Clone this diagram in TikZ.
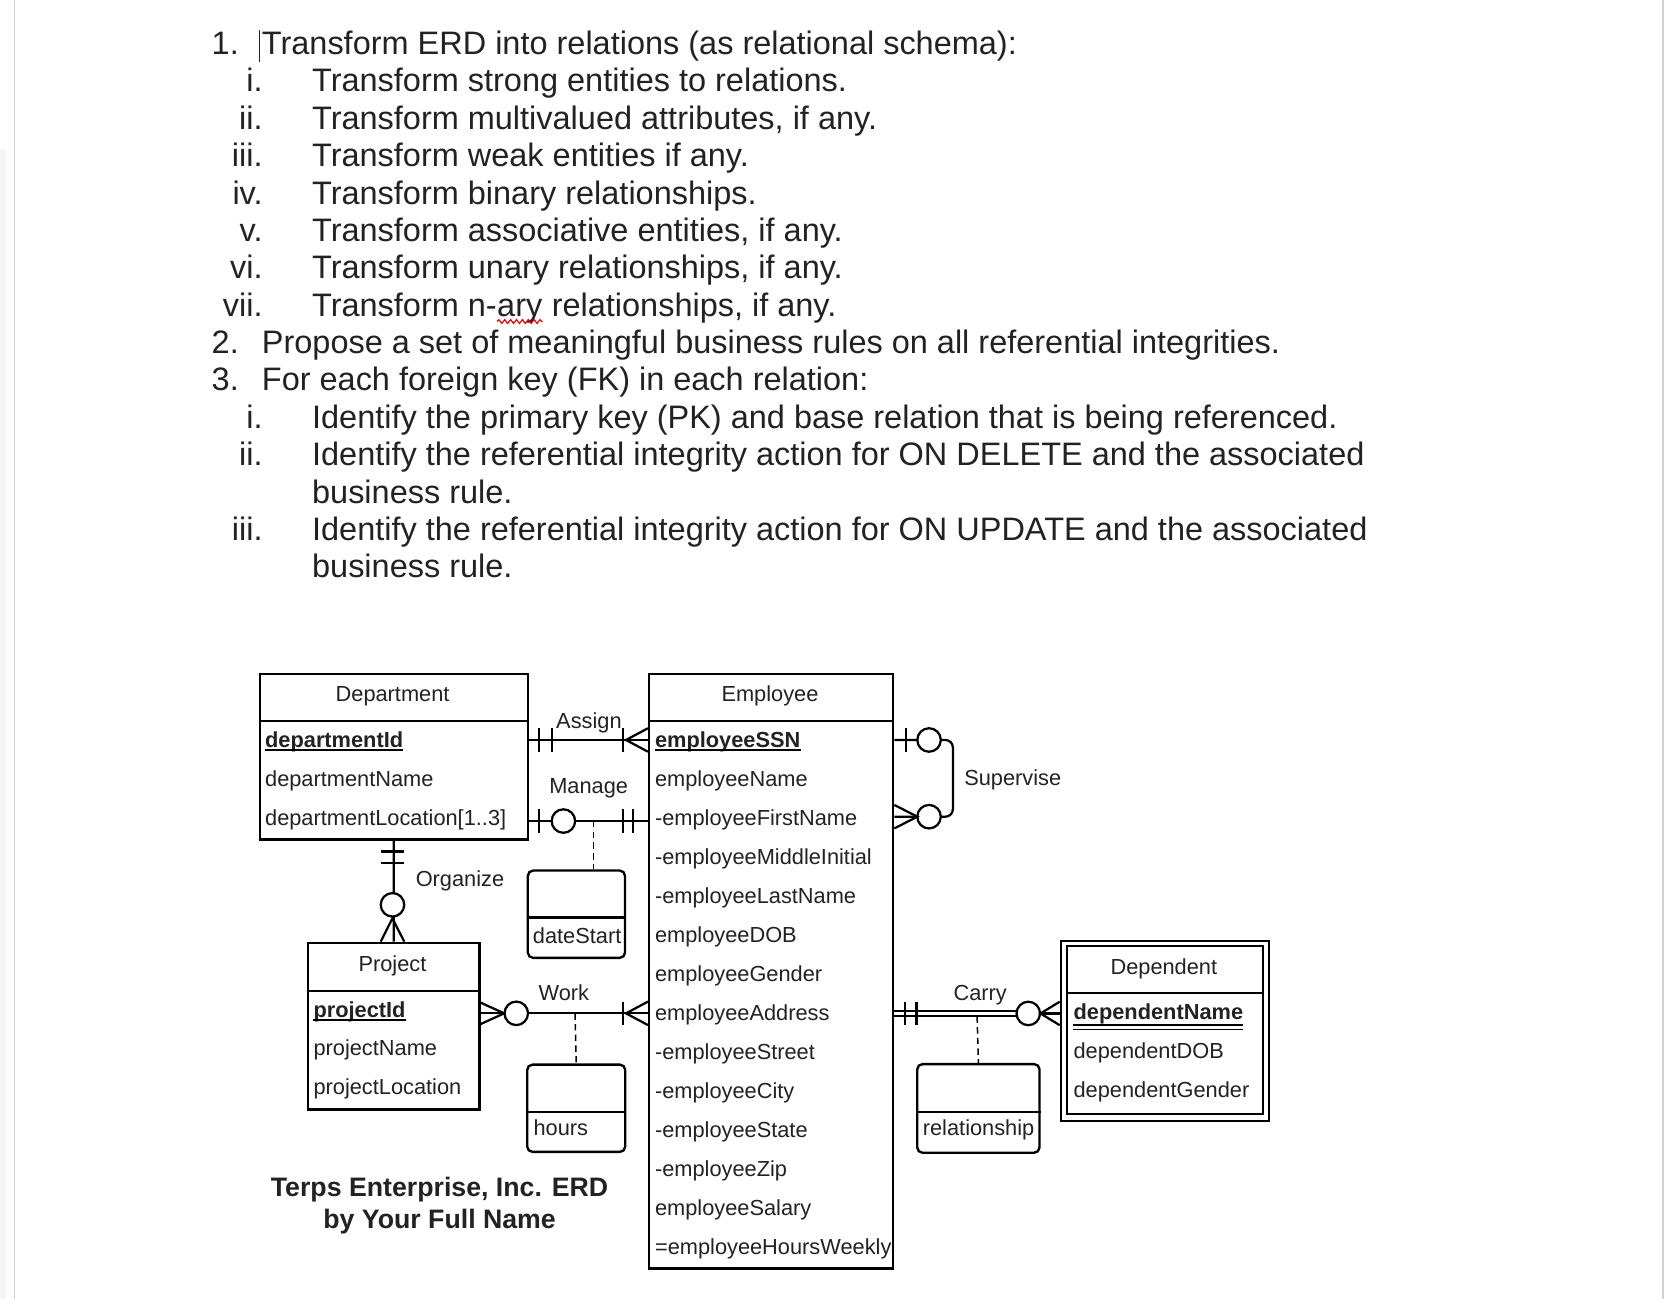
\documentclass[tikz,border=0pt]{standalone}
\usepackage{fontspec}
\setmainfont{Liberation Sans}
\usetikzlibrary{calc,decorations.pathmorphing}
\definecolor{txt}{HTML}{222222}
\newcommand\bodyfs{\fontsize{30.4}{35}\selectfont}
\newcommand\erdfs{\fontsize{20.4}{24}\selectfont}
\newcommand\titlefs{\fontsize{25}{30}\selectfont\bfseries}
\begin{document}
\begin{tikzpicture}[x=1pt,y=-1pt,
  ln/.style={anchor=base west, inner sep=0pt, font=\bodyfs, text=txt},
  num/.style={anchor=base east, inner sep=0pt, font=\bodyfs, text=txt},
  ent/.style={draw, line width=2.2pt, inner sep=0pt, anchor=north west},
  assoc/.style={draw, line width=2.2pt, inner sep=0pt, anchor=north west, rounded corners=5pt},
  divl/.style={line width=2.2pt},
  attr/.style={anchor=base west, inner sep=0pt, font=\erdfs, text=txt},
  hdr/.style={anchor=base, inner sep=0pt, font=\erdfs, text=txt},
  rel/.style={line width=2.1pt},
  tk/.style={line width=2.1pt},
  opt/.style={line width=2.1pt, fill=white},
  dsh/.style={line width=1.4pt, dash pattern=on 6pt off 4pt},
  ul/.style={line width=1.6pt}
]
\useasboundingbox (0,0) rectangle (1568,1216);
\fill[white] (0,0) rectangle (1568,1216);
\fill[gray!8] (0,140) rectangle (6,1216);
\draw[gray!35, line width=1.5pt] (13.5,0) -- (13.5,1216);
\draw[gray!35, line width=1.5pt] (1557,0) -- (1557,1216);

% ---------------- text list ----------------
\draw[txt, line width=1pt] (243,28) -- (243,58);
\node[ln] (n1) at (198,51) {1.};
\node[ln] (l1) at (245,51) {Transform ERD into relations (as relational schema):};
\node[num] at (246,86) {i.};
\node[ln] at (292,86) {Transform strong entities to relations.};
\node[num] at (246,121) {ii.};
\node[ln] at (292,121) {Transform multivalued attributes, if any.};
\node[num] at (246,156) {iii.};
\node[ln] at (292,156) {Transform weak entities if any.};
\node[num] at (246,191) {iv.};
\node[ln] at (292,191) {Transform binary relationships.};
\node[num] at (246,226) {v.};
\node[ln] at (292,226) {Transform associative entities, if any.};
\node[num] at (246,261) {vi.};
\node[ln] at (292,261) {Transform unary relationships, if any.};
\node[num] at (246,296) {vii.};
\node[ln] (t7a) at (292,296) {Transform n-};
\node[ln] (t7b) at (t7a.base east) {ary};
\node[ln] (t7c) at (t7b.base east) {\ relationships, if any.};
\draw[red!90!black, line width=1.1pt, decorate, decoration={snake, amplitude=1.8pt, segment length=5.5pt}]
  ($(t7b.base west)+(0,5)$) -- ($(t7b.base east)+(0,5)$);
\node[ln] at (198,331) {2.};
\node[ln] at (245,331) {Propose a set of meaningful business rules on all referential integrities.};
\node[ln] at (198,366) {3.};
\node[ln] at (245,366) {For each foreign key (FK) in each relation:};
\node[num] at (246,401) {i.};
\node[ln] at (292,401) {Identify the primary key (PK) and base relation that is being referenced.};
\node[num] at (246,436) {ii.};
\node[ln] at (292,436) {Identify the referential integrity action for ON DELETE and the associated};
\node[ln] at (292,471) {business rule.};
\node[num] at (246,506) {iii.};
\node[ln] at (292,506) {Identify the referential integrity action for ON UPDATE and the associated};
\node[ln] at (292,541) {business rule.};

% ---------------- entities ----------------
\node[ent, minimum width=251pt, minimum height=155.1pt] (dept) at (242,629.7) {};
\draw[divl] (dept.west |- 0,675) -- (dept.east |- 0,675);
\node[hdr] at (367.5,656.9) {Department};
\node[attr, font=\erdfs\bfseries] (deptid) at (248,699.6) {departmentId};
\draw[ul] ($(deptid.base west)+(0,2.5)$) -- ($(deptid.base east)+(0,2.5)$);
\node[attr] at (248,736.1) {departmentName};
\node[attr] at (248,772.7) {departmentLocation[1..3]};

\node[ent, minimum width=228.4pt, minimum height=556.7pt] (emp) at (606.6,629.7) {};
\draw[divl] (emp.west |- 0,675) -- (emp.east |- 0,675);
\node[hdr] at (720.8,656.9) {Employee};
\node[attr, font=\erdfs\bfseries] (ssn) at (613,699.6) {employeeSSN};
\draw[ul] ($(ssn.base west)+(0,2.5)$) -- ($(ssn.base east)+(0,2.5)$);
\foreach \t [count=\i from 1] in {{employeeName},{-employeeFirstName},{-employeeMiddleInitial},
  {-employeeLastName},{employeeDOB},{employeeGender},{employeeAddress},{-employeeStreet},
  {-employeeCity},{-employeeState},{-employeeZip},{employeeSalary},{=employeeHoursWeekly}}
  \node[attr] at (613,699.6+36.55*\i) {\t};

\node[ent, minimum width=160.8pt, minimum height=156.1pt] (proj) at (287,881.5) {};
\draw[divl] (proj.west |- 0,927.7) -- (proj.east |- 0,927.7);
\node[hdr] at (367.4,909.6) {Project};
\node[attr, font=\erdfs\bfseries] (pid) at (293.3,952.4) {projectId};
\draw[ul] ($(pid.base west)+(0,2.5)$) -- ($(pid.base east)+(0,2.5)$);
\node[attr] at (293.3,988.5) {projectName};
\node[attr] at (293.3,1024.6) {projectLocation};

\node[ent, minimum width=195pt, minimum height=168.5pt] (dep) at (992,880) {};
\node[ent, minimum width=183pt, minimum height=157.3pt] (depin) at (998,884.7) {};
\draw[divl] (depin.west |- 0,929.7) -- (depin.east |- 0,929.7);
\node[hdr] at (1089.5,912.7) {Dependent};
\node[attr, font=\erdfs\bfseries] (dname) at (1004.8,954.3) {dependentName};
\draw[ul, line width=1.4pt] ($(dname.base west)+(0,5.3)$) -- ($(dname.base east)+(0,5.3)$);
\draw[ul, line width=1.4pt] ($(dname.base west)+(0,9.2)$) -- ($(dname.base east)+(0,9.2)$);
\node[attr] at (1004.8,990.8) {dependentDOB};
\node[attr] at (1004.8,1027) {dependentGender};

% associative boxes
\node[assoc, minimum width=91pt, minimum height=81.8pt] (dstart) at (493,813.8) {};
\draw[divl] (dstart.west |- 0,859) -- (dstart.east |- 0,859);
\node[attr] at (498.7,883) {dateStart};
\node[assoc, minimum width=91.8pt, minimum height=81.7pt] (hours) at (492.4,995.5) {};
\draw[divl] (hours.west |- 0,1040.7) -- (hours.east |- 0,1040.7);
\node[attr] at (499.3,1062.5) {hours};
\node[assoc, minimum width=114.5pt, minimum height=83pt] (relb) at (857.5,995) {};
\draw[divl] (relb.west |- 0,1041) -- (relb.east |- 0,1041);
\node[attr] at (863.7,1062.5) {relationship};

% ---------------- relationships ----------------
% Assign
\draw[rel] (dept.east |- 0,692.7) -- (emp.west |- 0,692.7);
\draw[tk] (504.6,681.7) -- (504.6,703.7);
\draw[tk] (516.5,681.7) -- (516.5,703.7);
\draw[tk] (583.4,681.7) -- (583.4,703.7);
\draw[tk] (606.6,681.7) -- (586,692.7) -- (606.6,703.7);
\node[attr] at (520.5,681.8) {Assign};

% Manage
\draw[rel] (dept.east |- 0,768.6) -- (emp.west |- 0,768.6);
\draw[tk] (504.6,757.6) -- (504.6,779.6);
\draw[opt] (527.4,768.6) circle[radius=11pt];
\draw[tk] (583.4,757.6) -- (583.4,779.6);
\draw[tk] (592.7,757.6) -- (592.7,779.6);
\coordinate (mgj) at (555.5,768.6);
\draw[dsh] (mgj) -- (mgj |- dstart.north);
\node[attr] at (514,742.7) {Manage};

% Organize
\draw[rel] (dept.south) -- (proj.north);
\draw[tk] (356.4,797) -- (378.4,797);
\draw[tk] (356.4,807.6) -- (378.4,807.6);
\draw[opt] (367.4,847) circle[radius=11pt];
\draw[tk] (356.4,881.5) -- (367.4,859.6) -- (378.4,881.5);
\node[attr] at (389,830) {Organize};

% Work
\draw[rel] (proj.east |- 0,948.6) -- (emp.west |- 0,948.6);
\draw[tk] (447.8,937.6) -- (472,948.6) -- (447.8,959.6);
\draw[opt] (483.3,948.6) circle[radius=11pt];
\draw[tk] (583.4,937.6) -- (583.4,959.6);
\draw[tk] (606.6,937.6) -- (586,948.6) -- (606.6,959.6);
\coordinate (wkj) at (538.3,948.6);
\draw[dsh] (wkj) -- (hours.north);
\node[attr] at (504,936.8) {Work};

% Carry
\coordinate (carryc) at (962.6,948.7);
\draw[line width=1.8pt, double, double distance=3pt] (emp.east |- 0,948.7) -- (carryc);
\draw[tk] (847,937.7) -- (847,959.7);
\draw[tk] (858,937.7) -- (858,959.7);
\draw[opt] (carryc) circle[radius=11pt];
\draw[tk] (dep.west |- 0,937.7) -- (974,948.7) -- (dep.west |- 0,959.7);
\draw[tk] (974,948.7) -- (dep.west |- 0,948.7);
\coordinate (cyj) at (914.7,951.5);
\draw[dsh] (cyj) -- (relb.north);
\node[attr] at (892.5,936.2) {Carry};

% Supervise
\draw[rel, rounded corners=7pt] (emp.east |- 0,692.7) -- (892,692.7) -- (892,764.5) -- (emp.east |- 0,764.5);
\draw[tk] (847.8,681.7) -- (847.8,703.7);
\draw[opt] (869.7,692.7) circle[radius=11pt];
\draw[opt] (869.7,764.5) circle[radius=11pt];
\draw[tk] (emp.east |- 0,753.5) -- (858.7,764.5) -- (emp.east |- 0,775.5);
\node[attr] at (902.5,734.9) {Supervise};

% title
\node[anchor=base, inner sep=0pt, font=\titlefs, text=txt] at (411.5,1120.3) {Terps Enterprise, Inc. ERD};
\node[anchor=base, inner sep=0pt, font=\titlefs, text=txt] at (411.5,1150) {by Your Full Name};
\end{tikzpicture}
\end{document}
